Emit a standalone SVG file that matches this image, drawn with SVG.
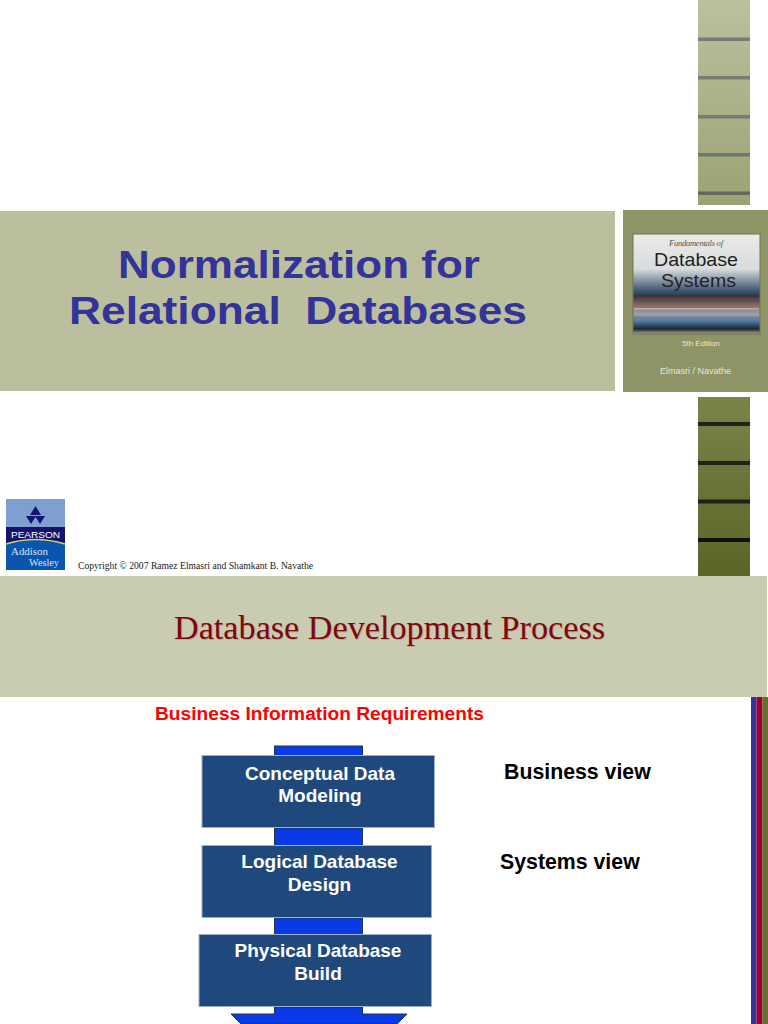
<svg xmlns="http://www.w3.org/2000/svg" width="768" height="1024" viewBox="0 0 768 1024">
<style>
.t{font-family:"Liberation Sans",Arial,sans-serif;font-weight:bold}
.b{fill:#1f497d;stroke:#9fb0c6;stroke-width:1}
.w{fill:#fff;font-size:19px;text-anchor:middle}
.k{fill:#000;font-size:21.300px}
.bar{stroke:#1a3a3a;stroke-width:1;fill:#0a3ae8}
</style>
<defs>
<linearGradient id="g1" x1="0" y1="0" x2="0" y2="1"><stop offset="0" stop-color="#bcc09e"/><stop offset="1" stop-color="#9ca274"/></linearGradient>
<linearGradient id="g2" x1="0" y1="0" x2="0" y2="1"><stop offset="0" stop-color="#7b8349"/><stop offset="1" stop-color="#5a6526"/></linearGradient>
<linearGradient id="sky" x1="0" y1="0" x2="0" y2="1"><stop offset="0" stop-color="#ecebe6"/><stop offset=".35" stop-color="#d8dcdf"/><stop offset=".55" stop-color="#4a6079"/><stop offset=".62" stop-color="#27384a"/><stop offset=".72" stop-color="#8a6f66"/><stop offset=".8" stop-color="#9aa3ad"/><stop offset=".87" stop-color="#4f7ba6"/><stop offset=".95" stop-color="#1c2630"/><stop offset="1" stop-color="#a8aa90"/></linearGradient>
</defs>
<rect width="768" height="1024" fill="#fff"/>
<g id="slide1-tabs">
<rect x="698" y="0" width="52" height="205" fill="url(#g1)"/>
<g fill="#787a76"><rect x="698" y="37.500" width="52" height="3.500"/><rect x="698" y="76" width="52" height="3.500"/><rect x="698" y="115" width="52" height="3.500"/><rect x="698" y="153" width="52" height="3.500" fill="#6a7a70"/><rect x="698" y="191.500" width="52" height="3.500" fill="#666660"/></g>
<rect x="698" y="397" width="52" height="179" fill="url(#g2)"/>
<g fill="#1c2418"><rect x="698" y="422" width="52" height="4"/><rect x="698" y="461" width="52" height="4"/><rect x="698" y="499.500" width="52" height="4"/><rect x="698" y="538" width="52" height="4" fill="#0c100a"/></g>
</g>
<g id="title-band">
<rect x="0" y="211" width="615" height="180" fill="#bcbf9e"/>
<text class="t" x="118" y="278" font-size="38" fill="#333399" textLength="362" lengthAdjust="spacingAndGlyphs">Normalization for</text>
<text class="t" x="69" y="324" font-size="38" fill="#333399" textLength="458" lengthAdjust="spacingAndGlyphs" xml:space="preserve">Relational  Databases</text>
</g>
<g id="book-cover">
<rect x="623" y="210" width="145" height="182" fill="#8f9467"/>
<rect x="633" y="234" width="127" height="100" fill="url(#sky)" stroke="#6f7350" stroke-width="1"/>
<rect x="634" y="298" width="125" height="1.500" fill="#7d3a34"/>
<rect x="634" y="308" width="125" height="1.500" fill="#c9a79e"/>
<rect x="634" y="317" width="125" height="2" fill="#6d7f92"/>
<text x="669" y="246" font-family="'Liberation Serif',serif" font-style="italic" font-size="8.500" fill="#555" textLength="54">Fundamentals of</text>
<text x="654" y="266" font-family="'Liberation Sans',Arial,sans-serif" font-size="19" fill="#222" textLength="84" lengthAdjust="spacingAndGlyphs">Database</text>
<text x="661" y="287" font-family="'Liberation Sans',Arial,sans-serif" font-size="19" fill="#222" textLength="75" lengthAdjust="spacingAndGlyphs">Systems</text>
<text x="682" y="346" font-family="'Liberation Sans',Arial,sans-serif" font-size="8" fill="#e8e8d8">5th Edition</text>
<text x="660" y="374" font-family="'Liberation Sans',Arial,sans-serif" font-size="9.500" fill="#e8e8d8" textLength="71" lengthAdjust="spacingAndGlyphs">Elmasri / Navathe</text>
</g>
<g id="pearson-logo">
<rect x="6" y="499" width="59" height="28" fill="#7f9fd0"/>
<rect x="6" y="527" width="59" height="17" fill="#14146e"/>
<path d="M6 544Q35 535 65 544V570H6Z" fill="#0a55ae"/>
<path d="M6 544Q35 535 65 544" fill="none" stroke="#d8d060" stroke-width="1.500"/>
<path d="M35.500 506l5.500 9h-11zM26 516h10l-5 8zM35 516h10l-5 8z" fill="#14146e"/>
<text x="11" y="538" font-family="'Liberation Sans',Arial,sans-serif" font-size="9.500" fill="#fff" textLength="49" lengthAdjust="spacingAndGlyphs">PEARSON</text>
<text x="11" y="555" font-family="'Liberation Serif',serif" font-size="10" fill="#d8e4f4" textLength="37" lengthAdjust="spacingAndGlyphs">Addison</text>
<text x="29" y="566" font-family="'Liberation Serif',serif" font-size="10" fill="#d8e4f4" textLength="30" lengthAdjust="spacingAndGlyphs">Wesley</text>
</g>
<text id="copyright" x="78" y="569" font-family="'Liberation Serif',serif" font-size="10" fill="#222" textLength="235" lengthAdjust="spacingAndGlyphs">Copyright © 2007 Ramez Elmasri and Shamkant B. Navathe</text>
<g id="slide2-stripes">
<rect x="751" y="697" width="5.500" height="327" fill="#333399"/>
<rect x="756.500" y="697" width="6" height="327" fill="#990033"/>
<rect x="762.500" y="697" width="5.500" height="327" fill="#66702e"/>
</g>
<g id="slide2-header">
<rect x="0" y="576" width="767" height="121" fill="#c9ccb1"/>
<text x="175" y="640" font-family="'Liberation Serif',serif" font-size="34" fill="#c9a0a0" textLength="431" lengthAdjust="spacingAndGlyphs">Database Development Process</text>
<text x="174" y="639" font-family="'Liberation Serif',serif" font-size="34" fill="#7a0a0a" textLength="431" lengthAdjust="spacingAndGlyphs">Database Development Process</text>
</g>
<text id="requirements" class="t" x="155" y="720" font-size="18" fill="#ff0000" textLength="329" lengthAdjust="spacingAndGlyphs">Business Information Requirements</text>
<g id="connectors">
<rect class="bar" x="274.500" y="746" width="88" height="10"/>
<rect class="bar" x="274.500" y="828" width="88" height="18"/>
<rect class="bar" x="274.500" y="918" width="88" height="17"/>
<path class="bar" d="M274.500 1007V1014H231L241 1024H397L407 1014H362.500V1007Z"/>
</g>
<g id="node-conceptual">
<rect class="b" x="202" y="755.500" width="232.500" height="72"/>
<text class="t w" x="320" y="780">Conceptual Data</text>
<text class="t w" x="320" y="802">Modeling</text>
</g>
<g id="node-logical">
<rect class="b" x="202" y="845.500" width="229.500" height="72"/>
<text class="t w" x="319.500" y="868">Logical Database</text>
<text class="t w" x="319.500" y="891">Design</text>
</g>
<g id="node-physical">
<rect class="b" x="199" y="934.500" width="232.500" height="72"/>
<text class="t w" x="318" y="957">Physical Database</text>
<text class="t w" x="318" y="980">Build</text>
</g>
<text id="business-view" class="t k" x="504" y="779">Business view</text>
<text id="systems-view" class="t k" x="500" y="869">Systems view</text>
</svg>
